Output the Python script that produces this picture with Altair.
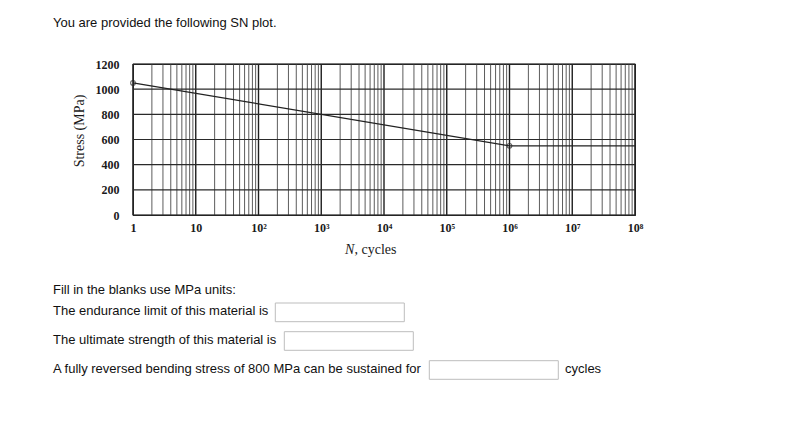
import json
import altair as alt
import pandas as pd

# ---- data ----
cycles = [1, 1e6, 1e8]
stress = [1050, 550, 550]
marker_cycles = [1, 1e6]
marker_stress = [1050, 550]

decades = [1, 1e1, 1e2, 1e3, 1e4, 1e5, 1e6, 1e7, 1e8]
decade_labels = ["1", "10", "10²", "10³", "10⁴", "10⁵", "10⁶", "10⁷", "10⁸"]
minor_multipliers = [2, 3, 4, 5, 6, 7, 8, 9]
stress_ticks = [0, 200, 400, 600, 800, 1000, 1200]

header_text = ["You are provided the following SN plot."]
question_lines = [
    "Fill in the blanks use MPa units:",
    "The endurance limit of this material is",
    "The ultimate strength of this material is",
    "A fully reversed bending stress of 800 MPa can be sustained for",
]
unit_text = ["cycles"]

W, H = 502, 151
SERIF = "Liberation Serif"
SANS = "Liberation Sans"

minor_vals = [m * d for d in decades[:-1] for m in minor_multipliers]

xscale = alt.Scale(type="log", domain=[1, 1e8], nice=False)
yscale = alt.Scale(domain=[0, 1200], nice=False)

label_expr = json.dumps(decade_labels, ensure_ascii=False) + "[round(log(datum.value)/LN10)]"

xaxis = alt.Axis(
    values=decades,
    labelExpr=label_expr,
    title=None,
    grid=False,
    domain=False,
    ticks=False,
    labelFont=SERIF,
    labelFontSize=12,
    labelFontWeight="bold",
    labelColor="#1a1a1a",
    labelPadding=7,
    labelFlush=False,
    labelOverlap=False,
)
yaxis = alt.Axis(
    values=stress_ticks,
    format="d",
    title=None,
    grid=False,
    domain=False,
    ticks=False,
    labelFont=SERIF,
    labelFontSize=12,
    labelFontWeight="bold",
    labelColor="#1a1a1a",
    labelPadding=14,
    labelOverlap=False,
)

line_df = pd.DataFrame({"N": cycles, "S": stress})
mark_df = pd.DataFrame({"N": marker_cycles, "S": marker_stress})
minor_df = pd.DataFrame({"N": minor_vals})
major_df = pd.DataFrame({"N": decades})
hgrid_df = pd.DataFrame({"S": stress_ticks})

minor_grid = alt.Chart(minor_df).mark_rule(color="#4a4a4a", strokeWidth=0.9).encode(
    x=alt.X("N:Q", scale=xscale, axis=xaxis)
)
major_grid = alt.Chart(major_df).mark_rule(color="#1e1e1e", strokeWidth=1.4).encode(
    x=alt.X("N:Q", scale=xscale, axis=xaxis)
)
h_grid = alt.Chart(hgrid_df).mark_rule(color="#2a2a2a", strokeWidth=1.1).encode(
    y=alt.Y("S:Q", scale=yscale, axis=yaxis)
)

sn_line = alt.Chart(line_df).mark_line(color="#222222", strokeWidth=1.2).encode(
    x=alt.X("N:Q", scale=xscale, axis=xaxis),
    y=alt.Y("S:Q", scale=yscale, axis=yaxis),
)

sn_points = alt.Chart(mark_df).mark_point(
    shape="circle", filled=False, color="#222222", size=22, strokeWidth=1.1
).encode(
    x=alt.X("N:Q", scale=xscale, axis=xaxis),
    y=alt.Y("S:Q", scale=yscale, axis=yaxis),
)

# ---- texts around the plot ----
def text_layer(texts, x, y, font, size, color="#111111", align="left", style="normal"):
    return alt.Chart(pd.DataFrame({"t": texts})).mark_text(
        font=font, fontSize=size, color=color, align=align, baseline="alphabetic",
        fontStyle=style,
    ).encode(text="t:N", x=alt.value(x), y=alt.value(y))

y_title = alt.Chart(pd.DataFrame({"t": ["Stress (MPa)"]})).mark_text(
    font=SERIF, fontSize=14, color="#1a1a1a", align="center", baseline="middle", angle=270
).encode(text="t:N", x=alt.value(-53), y=alt.value(67))

x_title_n = text_layer(["N"], 212, 190, SERIF, 14, color="#1a1a1a", style="italic")
x_title_rest = text_layer([", cycles"], 221.5, 190, SERIF, 14, color="#1a1a1a")

header = text_layer(header_text, -80, -36.7, SANS, 13)
q0 = text_layer([question_lines[0]], -80, 230.3, SANS, 13)
q1 = text_layer([question_lines[1]], -80, 251, SANS, 13)
q2 = text_layer([question_lines[2]], -80, 279.7, SANS, 13)
q3 = text_layer([question_lines[3]], -80, 308.7, SANS, 13)
unit = text_layer(unit_text, 432, 308.7, SANS, 13)

box_df = pd.DataFrame({"k": [0]})
def box(x1, x2, y1, y2):
    return alt.Chart(box_df).mark_rect(
        fill="white", stroke="#bdbdbd", strokeWidth=1
    ).encode(x=alt.value(x1), x2=alt.value(x2), y=alt.value(y1), y2=alt.value(y2))

b1 = box(142.3, 271.3, 239, 257.7)
b2 = box(151.3, 280.3, 267.7, 286.3)
b3 = box(296.3, 425.3, 296.7, 315.3)

chart = alt.layer(
    minor_grid, major_grid, h_grid, sn_line, sn_points,
    y_title, x_title_n, x_title_rest,
    header, q0, q1, q2, q3, unit, b1, b2, b3,
).properties(
    width=W,
    height=H,
    padding={"left": 125, "top": 56, "right": 169, "bottom": 205},
    autosize=alt.AutoSizeParams(type="none"),
    background="white",
).configure_view(stroke="#1e1e1e", strokeWidth=1.2)

chart.save("out.html", embed_options={"renderer": "svg", "actions": False})
